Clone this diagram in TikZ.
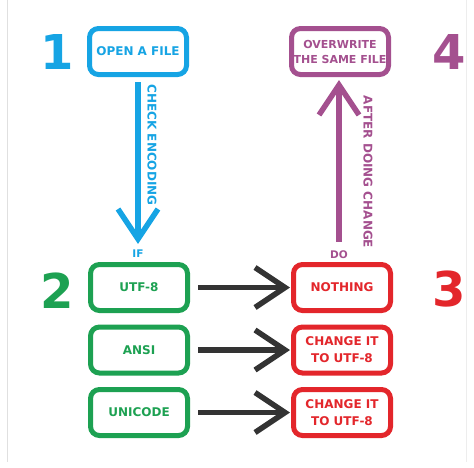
\documentclass[tikz,border=0pt]{standalone}
\usepackage{fontspec}
\setmainfont{DejaVu Sans}
\usetikzlibrary{arrows.meta,positioning}
\definecolor{skyb}{HTML}{16A4E4}
\definecolor{leaf}{HTML}{1DA152}
\definecolor{scarlet}{HTML}{E3262B}
\definecolor{plum}{HTML}{A4508F}
\definecolor{coal}{HTML}{333333}

\begin{document}
\begin{tikzpicture}[x=1pt,y=-1pt,node distance=11.5pt,
  box/.style={draw=#1,text=#1,fill=white,line width=5pt,rounded corners=9pt,minimum width=97pt,minimum height=46pt,align=center,font=\fontsize{12}{17}\selectfont\bfseries},
  num/.style={text=#1,font=\fontsize{48}{48}\selectfont\bfseries,inner sep=0pt},
  tag/.style={text=#1,font=\fontsize{10.5}{11}\selectfont\bfseries,inner sep=1pt},
  vlab/.style={text=#1,rotate=-90,font=\fontsize{12}{12}\selectfont\bfseries,inner sep=0pt},
  ar/.style={line width=5.5pt,draw=#1,-{Straight Barb[length=30pt,width=40pt]}}]
  \useasboundingbox (0,0) rectangle (474,467);
  \draw[black!12,line width=1pt] (7,0) -- (7,462);
  \draw[black!7,line width=1pt] (466,0) -- (466,462);
  % steps
  \node[box=skyb] (open) at (138,51.5) {OPEN A FILE};
  \node[box=plum,inner sep=1pt,font=\fontsize{11}{15}\selectfont\bfseries] (over) at (340,51.5) {OVERWRITE\\THE SAME FILE};
  \node[box=leaf] (utf) at (139,287.5) {UTF-8};
  \node[box=leaf,below=of utf] (ansi) {ANSI};
  \node[box=leaf,below=of ansi] (uni) {UNICODE};
  \node[box=scarlet] (none) at (342,287.5) {NOTHING};
  \node[box=scarlet,below=of none] (chg1) {CHANGE IT\\TO UTF-8};
  \node[box=scarlet,below=of chg1] (chg2) {CHANGE IT\\TO UTF-8};
  \node[num=skyb] (n1) at (57,52) {1};
  \node[num=leaf] (n2) at (57,291) {2};
  \node[num=scarlet] (n3) at (449,289) {3};
  \node[num=plum] (n4) at (449,52) {4};
  \node[tag=skyb] (if) at (138,254) {IF};
  \node[tag=plum] (do) at (339,255) {DO};
  \node[vlab=skyb] (chk) at (152,145) {CHECK ENCODING};
  \node[vlab=plum] (aft) at (368,172) {AFTER DOING CHANGE};
  % arrows
  \draw[ar=skyb] ([yshift=-5pt]open.south) -- ([yshift=5pt]if.north);
  \draw[ar=plum] ([yshift=8pt]do.north) -- ([yshift=-3pt]do.north |- over.south);
  \foreach \a/\b in {utf/none,ansi/chg1,uni/chg2} \draw[ar=coal] ([xshift=8pt]\a.east) -- ([xshift=-1pt]\b.west);
\end{tikzpicture}
\end{document}
